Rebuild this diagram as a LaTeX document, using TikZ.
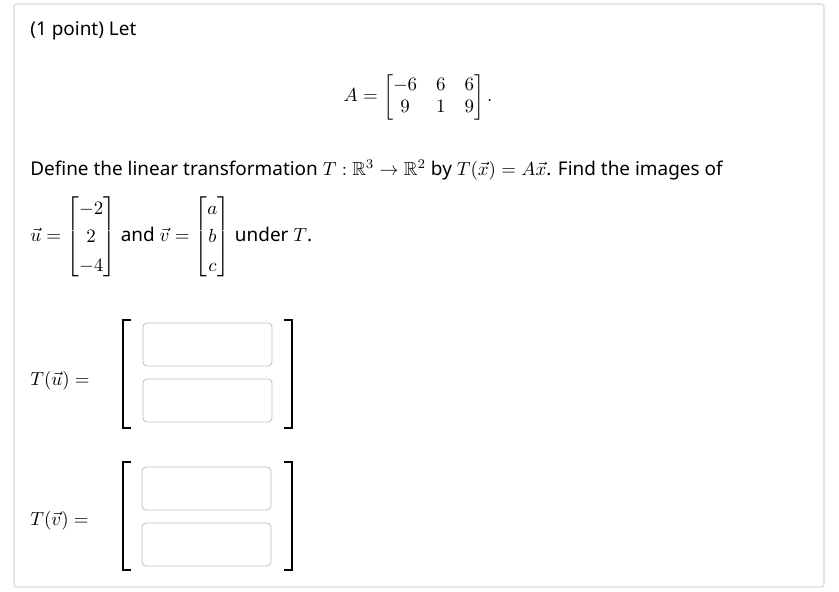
\documentclass[tikz,border=0pt]{standalone}
\usepackage{amsmath,amssymb}
\usepackage{fontspec}
\setmainfont{Noto Sans}
\tikzset{
  txt/.style={inner sep=0pt,anchor=west,scale=1.42,transform shape},
  ansbox/.style={draw=black!25,line width=0.6pt,rounded corners=3pt,fill=white},
  brk/.style={line width=1.1pt}
}
\begin{document}
\begin{tikzpicture}[x=0.75pt,y=-0.75pt]
\useasboundingbox (0,0) rectangle (839,592);
\draw[black!15,line width=0.8pt,rounded corners=2pt] (14,4) rectangle (824,587);
\node[txt] (p) at (30,31) {(1 point) Let};
\node[txt,anchor=center] (A) at (418,97) {$A=\begin{bmatrix}-6&6&6\\9&1&9\end{bmatrix}.$};
\node[txt] (def) at (30,170) {Define the linear transformation $T:\mathbb{R}^3\to\mathbb{R}^2$ by $T(\vec{x})=A\vec{x}$. Find the images of};
\node[txt] (uv) at (30,237) {\renewcommand{\arraystretch}{1.25}$\vec{u}=\begin{bmatrix}-2\\2\\-4\end{bmatrix}$ and $\vec{v}=\begin{bmatrix}a\\b\\c\end{bmatrix}$ under $T$.};
\node[txt] (tu) at (30,381) {$T(\vec{u})=$};
\node[txt] (tv) at (30,521) {$T(\vec{v})=$};
\foreach \t/\b in {320/428,462/570}{
  \draw[brk] (131,\t) -- (123,\t) -- (123,\b) -- (131,\b);
  \draw[brk] (284,\t) -- (292,\t) -- (292,\b) -- (284,\b);
}
\draw[ansbox] (143,323) rectangle (272,366);
\draw[ansbox] (143,379) rectangle (272,422);
\draw[ansbox] (142,467) rectangle (271,510);
\draw[ansbox] (142,523) rectangle (271,566);
\end{tikzpicture}
\end{document}
